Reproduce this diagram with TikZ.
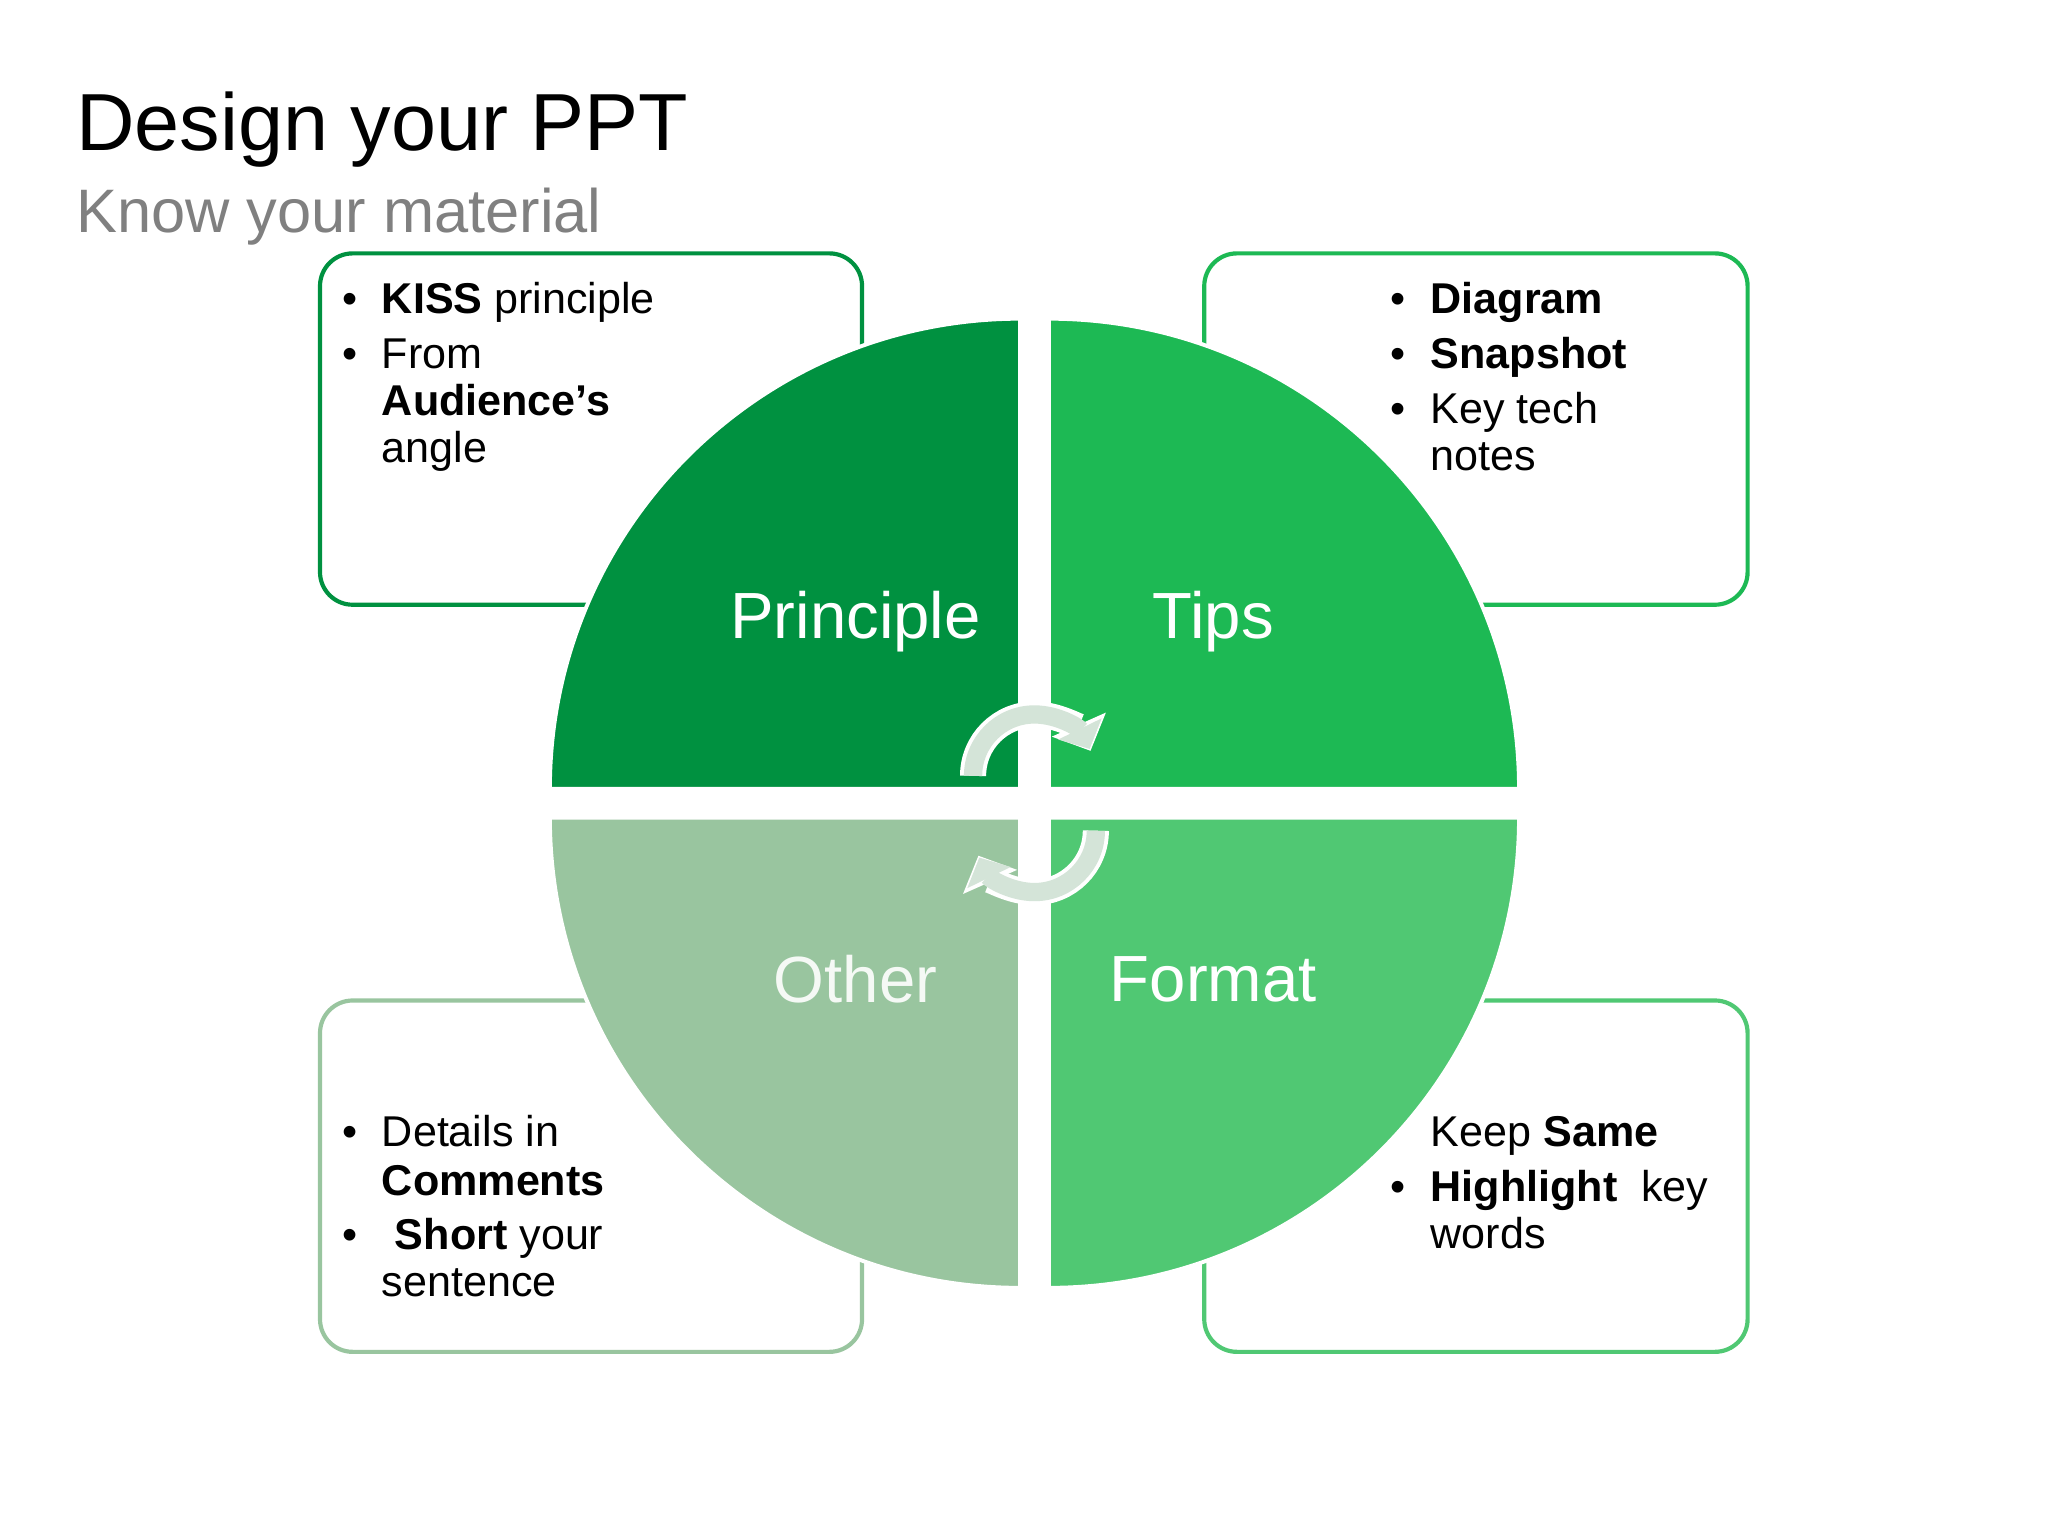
\documentclass[tikz,border=0pt]{standalone}
\usepackage{fontspec}
\setmainfont{Liberation Sans}
\usetikzlibrary{arrows.meta}
\definecolor{cA}{RGB}{0,145,64}
\definecolor{cB}{RGB}{29,185,84}
\definecolor{cC}{RGB}{153,197,159}
\definecolor{cD}{RGB}{80,200,115}
\definecolor{arw}{RGB}{212,228,216}
\definecolor{sub}{RGB}{128,128,128}
\tikzset{
 box/.style={rounded corners=12.5pt,line width=1.6pt,fill=white},
 quad/.style={draw=white,line width=1.5pt},
 txt/.style={anchor=base west,inner sep=0pt,font=\fontsize{16.5}{19}\selectfont},
 qlab/.style={text=white,font=\fontsize{25}{30}\selectfont},
}
\begin{document}
\begin{tikzpicture}[x=0.5pt,y=-0.5pt]
\useasboundingbox (0,0) rectangle (1568,1176);
\node[anchor=base west,inner sep=0pt,font=\fontsize{31}{36}\selectfont] (title) at (58,115) {Design your PPT};
\node[anchor=base west,inner sep=0pt,text=sub,font=\fontsize{23.5}{28}\selectfont] (subt) at (58,178) {Know your material};
% boxes
\draw[box,draw=cA] (245,194) rectangle (660,463);
\draw[box,draw=cB] (922,194) rectangle (1338,463);
\draw[box,draw=cC] (245,766) rectangle (660,1035);
\draw[box,draw=cD] (922,766) rectangle (1338,1035);
% quadrants
\fill[cA,quad] (781,604) -- (421,604) arc[start angle=180,end angle=270,radius=360] -- cycle;
\fill[cB,quad] (803,604) -- (803,244) arc[start angle=270,end angle=360,radius=360] -- cycle;
\fill[cC,quad] (781,626) -- (781,986) arc[start angle=90,end angle=180,radius=360] -- cycle;
\fill[cD,quad] (803,626) -- (1163,626) arc[start angle=0,end angle=90,radius=360] -- cycle;
\node[qlab] (qa) at (655,476) {Principle};
\node[qlab] (qb) at (929,476) {Tips};
\node[qlab,text=white!90!cC] (qc) at (655,750) {Other};
\node[qlab] (qd) at (929,750) {Format};
% arrows
\coordinate (a1) at (745,594);
\coordinate (b1) at (839,636);
\draw[white,line width=10pt,-{Triangle[width=22pt,length=11pt]}] (a1) arc[start angle=180,end angle=336,radius=47];
\draw[arw,line width=7pt,-{Triangle[width=18pt,length=8.5pt]}] (a1) arc[start angle=180,end angle=334,radius=47];
\draw[white,line width=10pt,-{Triangle[width=22pt,length=11pt]}] (b1) arc[start angle=0,end angle=156,radius=47];
\draw[arw,line width=7pt,-{Triangle[width=18pt,length=8.5pt]}] (b1) arc[start angle=0,end angle=154,radius=47];
% texts TL
\node[txt] (t1b) at (262,240) {•};
\node[txt] (t1) at (292,240) {\textbf{KISS} principle};
\node[txt] (t2b) at (262,282) {•};
\node[txt] (t2) at (292,282) {From};
\node[txt] (t3) at (292,318) {\textbf{Audience’s}};
\node[txt] (t4) at (292,354) {angle};
% TR
\node[txt] (r1b) at (1064,240) {•};
\node[txt] (r1) at (1095,240) {\textbf{Diagram}};
\node[txt] (r2b) at (1064,282) {•};
\node[txt] (r2) at (1095,282) {\textbf{Snapshot}};
\node[txt] (r3b) at (1064,324) {•};
\node[txt] (r3) at (1095,324) {Key tech};
\node[txt] (r4) at (1095,360) {notes};
% BL
\node[txt] (l1b) at (262,878) {•};
\node[txt] (l1) at (292,878) {Details in};
\node[txt] (l2) at (292,915) {\textbf{Comments}};
\node[txt] (l3b) at (262,957) {•};
\node[txt] (l3) at (302,957) {\textbf{Short} your};
\node[txt] (l4) at (292,993) {sentence};
% BR
\node[txt] (d1) at (1095,878) {Keep \textbf{Same}};
\node[txt] (d2b) at (1064,920) {•};
\node[txt] (d2) at (1095,920) {\textbf{Highlight}\ \ key};
\node[txt] (d3) at (1095,956) {words};
\end{tikzpicture}
\end{document}
